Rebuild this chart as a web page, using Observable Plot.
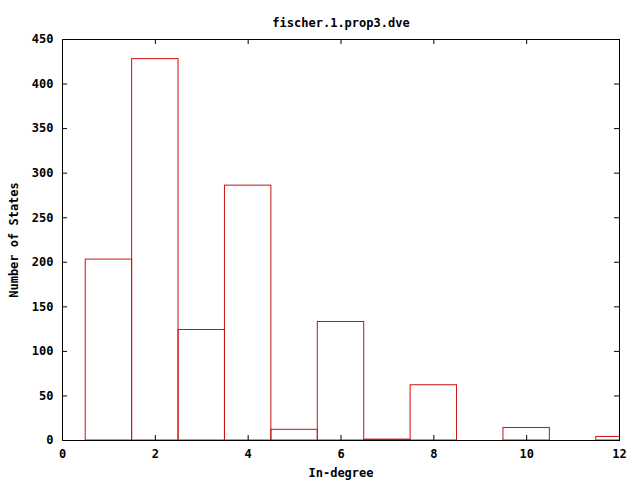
<!DOCTYPE html>
<html>
<head>
<meta charset="utf-8">
<script src="https://cdn.jsdelivr.net/npm/d3@7"></script>
<script src="https://cdn.jsdelivr.net/npm/@observablehq/plot@0.6"></script>
<style>
  html, body { margin: 0; padding: 0; background: #fff; }
</style>
</head>
<body>
<div id="chart"></div>
<script>
const title = "fischer.1.prop3.dve";
const xLabel = "In-degree";
const yLabel = "Number of States";
const inDegree = [1, 2, 3, 4, 5, 6, 7, 8, 9, 10, 11, 12];
const states = [203, 428, 124, 286, 12, 133, 1, 62, 0, 14, 0, 4];
const xTicks = [0, 2, 4, 6, 8, 10, 12];
const yTicks = [0, 50, 100, 150, 200, 250, 300, 350, 400, 450];

const data = inDegree.map((x, i) => ({x, v: states[i]}));

const W = 640, H = 480, mL = 62, mR = 21, mT = 39, mB = 40;
const plotW = W - mL - mR, plotH = H - mT - mB;
const tick = 5;
const font = "DejaVu Sans Mono, Liberation Mono, monospace";

const chart = Plot.plot({
  width: W, height: H,
  marginLeft: mL, marginRight: mR, marginTop: mT, marginBottom: mB,
  style: {fontFamily: font, fontSize: "12px", fontWeight: "bold", background: "white", color: "black"},
  x: {domain: [0, 12]},
  y: {domain: [0, 450]},
  marks: [
    Plot.rectY(data.filter(d => d.v > 0), {
      x1: d => d.x - 0.5, x2: d => d.x + 0.5, y1: 0, y2: d => d.v,
      fill: "none", stroke: "#cc1111", strokeWidth: 1, clip: true
    }),
    Plot.tickX(xTicks, {x: d => d, stroke: "black", insetTop: plotH - tick}),
    Plot.tickX(xTicks, {x: d => d, stroke: "black", insetBottom: plotH - tick}),
    Plot.tickY(yTicks, {y: d => d, stroke: "black", insetRight: plotW - tick}),
    Plot.tickY(yTicks, {y: d => d, stroke: "black", insetLeft: plotW - tick}),
    Plot.frame({stroke: "black"}),
    Plot.axisX({ticks: xTicks, tickSize: 0, tickPadding: 9, label: null, fontSize: 12, fontWeight: "bold"}),
    Plot.axisY({ticks: yTicks, tickSize: 0, tickPadding: 9, label: null, fontSize: 12, fontWeight: "bold"}),
    Plot.text([title], {frameAnchor: "top", dy: -21, fontSize: 12, fontWeight: "bold", fill: "black"}),
    Plot.text([xLabel], {frameAnchor: "bottom", dy: 36, fontSize: 12, fontWeight: "bold", fill: "black"}),
    Plot.text([yLabel], {frameAnchor: "left", textAnchor: "middle", dx: -48, rotate: -90, fontSize: 12, fontWeight: "bold", fill: "black"})
  ]
});
document.getElementById("chart").appendChild(chart);
</script>
</body>
</html>
